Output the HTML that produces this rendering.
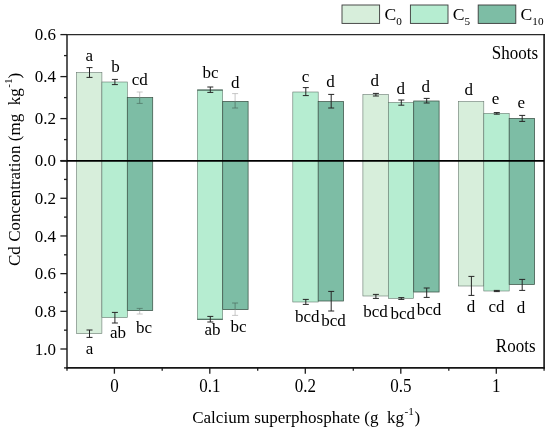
<!DOCTYPE html>
<html><head><meta charset="utf-8"><title>Cd Concentration</title>
<style>html,body{margin:0;padding:0;background:#fff}svg{display:block}text{font-family:"Liberation Serif","Times New Roman",serif;fill:#000}</style></head><body>
<svg width="550" height="430" viewBox="0 0 550 430">
<rect width="550" height="430" fill="#fff"/>
<rect x="76.50" y="72.60" width="25.4" height="88.00" fill="#d7eedb" stroke="#66786e" stroke-width="0.6"/>
<rect x="101.90" y="82.00" width="25.4" height="78.60" fill="#b6edd1" stroke="#66786e" stroke-width="0.6"/>
<rect x="127.30" y="97.60" width="25.4" height="63.00" fill="#7dbda5" stroke="#3c5347" stroke-width="0.75"/>
<rect x="197.30" y="90.00" width="25.4" height="70.60" fill="#b6edd1" stroke="#66786e" stroke-width="0.6"/>
<rect x="222.70" y="101.40" width="25.4" height="59.20" fill="#7dbda5" stroke="#3c5347" stroke-width="0.75"/>
<rect x="292.80" y="92.00" width="25.4" height="68.60" fill="#b6edd1" stroke="#66786e" stroke-width="0.6"/>
<rect x="318.20" y="101.60" width="25.4" height="59.00" fill="#7dbda5" stroke="#3c5347" stroke-width="0.75"/>
<rect x="362.90" y="94.60" width="25.4" height="66.00" fill="#d7eedb" stroke="#66786e" stroke-width="0.6"/>
<rect x="388.30" y="102.40" width="25.4" height="58.20" fill="#b6edd1" stroke="#66786e" stroke-width="0.6"/>
<rect x="413.70" y="101.00" width="25.4" height="59.60" fill="#7dbda5" stroke="#3c5347" stroke-width="0.75"/>
<rect x="458.40" y="101.60" width="25.4" height="59.00" fill="#d7eedb" stroke="#66786e" stroke-width="0.6"/>
<rect x="483.80" y="113.40" width="25.4" height="47.20" fill="#b6edd1" stroke="#66786e" stroke-width="0.6"/>
<rect x="509.20" y="118.40" width="25.4" height="42.20" fill="#7dbda5" stroke="#3c5347" stroke-width="0.75"/>
<rect x="76.50" y="160.60" width="25.4" height="173.00" fill="#d7eedb" stroke="#66786e" stroke-width="0.6"/>
<rect x="101.90" y="160.60" width="25.4" height="157.00" fill="#b6edd1" stroke="#66786e" stroke-width="0.6"/>
<rect x="127.30" y="160.60" width="25.4" height="150.00" fill="#7dbda5" stroke="#3c5347" stroke-width="0.75"/>
<rect x="197.30" y="160.60" width="25.4" height="158.80" fill="#b6edd1" stroke="#66786e" stroke-width="0.6"/>
<rect x="222.70" y="160.60" width="25.4" height="149.00" fill="#7dbda5" stroke="#3c5347" stroke-width="0.75"/>
<rect x="292.80" y="160.60" width="25.4" height="141.40" fill="#b6edd1" stroke="#66786e" stroke-width="0.6"/>
<rect x="318.20" y="160.60" width="25.4" height="140.40" fill="#7dbda5" stroke="#3c5347" stroke-width="0.75"/>
<rect x="362.90" y="160.60" width="25.4" height="135.40" fill="#d7eedb" stroke="#66786e" stroke-width="0.6"/>
<rect x="388.30" y="160.60" width="25.4" height="137.80" fill="#b6edd1" stroke="#66786e" stroke-width="0.6"/>
<rect x="413.70" y="160.60" width="25.4" height="131.40" fill="#7dbda5" stroke="#3c5347" stroke-width="0.75"/>
<rect x="458.40" y="160.60" width="25.4" height="125.40" fill="#d7eedb" stroke="#66786e" stroke-width="0.6"/>
<rect x="483.80" y="160.60" width="25.4" height="130.40" fill="#b6edd1" stroke="#66786e" stroke-width="0.6"/>
<rect x="509.20" y="160.60" width="25.4" height="123.80" fill="#7dbda5" stroke="#3c5347" stroke-width="0.75"/>
<line x1="197.30" y1="90.1" x2="222.70" y2="90.1" stroke="#4f6f60" stroke-width="1.2"/>
<line x1="197.30" y1="319.3" x2="222.70" y2="319.3" stroke="#4f6f60" stroke-width="1.2"/>
<g stroke="#262626" stroke-width="1.0" fill="none"><line x1="89.50" y1="67.60" x2="89.50" y2="77.40"/><line x1="86.50" y1="67.60" x2="92.50" y2="67.60"/><line x1="86.50" y1="77.40" x2="92.50" y2="77.40"/></g>
<g stroke="#262626" stroke-width="1.0" fill="none"><line x1="114.90" y1="79.40" x2="114.90" y2="84.60"/><line x1="111.90" y1="79.40" x2="117.90" y2="79.40"/><line x1="111.90" y1="84.60" x2="117.90" y2="84.60"/></g>
<g stroke-width="0.75" fill="none"><line x1="139.70" y1="92.00" x2="139.70" y2="97.60" stroke="#b4b4b4"/><line x1="139.70" y1="97.60" x2="139.70" y2="103.40" stroke="#4f7263"/><line x1="136.70" y1="92.00" x2="142.70" y2="92.00" stroke="#b4b4b4"/><line x1="136.70" y1="103.40" x2="142.70" y2="103.40" stroke="#4f7263"/></g>
<g stroke="#262626" stroke-width="1.0" fill="none"><line x1="210.30" y1="87.00" x2="210.30" y2="92.40"/><line x1="207.30" y1="87.00" x2="213.30" y2="87.00"/><line x1="207.30" y1="92.40" x2="213.30" y2="92.40"/></g>
<g stroke-width="0.75" fill="none"><line x1="235.10" y1="93.60" x2="235.10" y2="101.40" stroke="#b4b4b4"/><line x1="235.10" y1="101.40" x2="235.10" y2="108.00" stroke="#4f7263"/><line x1="232.10" y1="93.60" x2="238.10" y2="93.60" stroke="#b4b4b4"/><line x1="232.10" y1="108.00" x2="238.10" y2="108.00" stroke="#4f7263"/></g>
<g stroke="#262626" stroke-width="1.0" fill="none"><line x1="305.80" y1="87.60" x2="305.80" y2="95.60"/><line x1="302.80" y1="87.60" x2="308.80" y2="87.60"/><line x1="302.80" y1="95.60" x2="308.80" y2="95.60"/></g>
<g stroke="#262626" stroke-width="1.0" fill="none"><line x1="331.20" y1="94.40" x2="331.20" y2="108.00"/><line x1="328.20" y1="94.40" x2="334.20" y2="94.40"/><line x1="328.20" y1="108.00" x2="334.20" y2="108.00"/></g>
<g stroke="#262626" stroke-width="1.0" fill="none"><line x1="375.90" y1="93.40" x2="375.90" y2="96.00"/><line x1="372.90" y1="93.40" x2="378.90" y2="93.40"/><line x1="372.90" y1="96.00" x2="378.90" y2="96.00"/></g>
<g stroke="#262626" stroke-width="1.0" fill="none"><line x1="401.30" y1="100.00" x2="401.30" y2="105.20"/><line x1="398.30" y1="100.00" x2="404.30" y2="100.00"/><line x1="398.30" y1="105.20" x2="404.30" y2="105.20"/></g>
<g stroke="#262626" stroke-width="1.0" fill="none"><line x1="426.70" y1="98.40" x2="426.70" y2="103.00"/><line x1="423.70" y1="98.40" x2="429.70" y2="98.40"/><line x1="423.70" y1="103.00" x2="429.70" y2="103.00"/></g>
<g stroke="#262626" stroke-width="1.0" fill="none"><line x1="496.80" y1="112.60" x2="496.80" y2="114.20"/><line x1="493.80" y1="112.60" x2="499.80" y2="112.60"/><line x1="493.80" y1="114.20" x2="499.80" y2="114.20"/></g>
<g stroke="#262626" stroke-width="1.0" fill="none"><line x1="522.20" y1="115.40" x2="522.20" y2="121.40"/><line x1="519.20" y1="115.40" x2="525.20" y2="115.40"/><line x1="519.20" y1="121.40" x2="525.20" y2="121.40"/></g>
<g stroke="#262626" stroke-width="1.0" fill="none"><line x1="89.50" y1="330.00" x2="89.50" y2="337.40"/><line x1="86.50" y1="330.00" x2="92.50" y2="330.00"/><line x1="86.50" y1="337.40" x2="92.50" y2="337.40"/></g>
<g stroke="#262626" stroke-width="1.0" fill="none"><line x1="114.90" y1="312.40" x2="114.90" y2="323.00"/><line x1="111.90" y1="312.40" x2="117.90" y2="312.40"/><line x1="111.90" y1="323.00" x2="117.90" y2="323.00"/></g>
<g stroke-width="0.75" fill="none"><line x1="139.70" y1="308.40" x2="139.70" y2="310.60" stroke="#4f7263"/><line x1="139.70" y1="310.60" x2="139.70" y2="314.00" stroke="#b4b4b4"/><line x1="136.70" y1="308.40" x2="142.70" y2="308.40" stroke="#4f7263"/><line x1="136.70" y1="314.00" x2="142.70" y2="314.00" stroke="#b4b4b4"/></g>
<g stroke="#262626" stroke-width="1.0" fill="none"><line x1="210.30" y1="316.40" x2="210.30" y2="322.00"/><line x1="207.30" y1="316.40" x2="213.30" y2="316.40"/><line x1="207.30" y1="322.00" x2="213.30" y2="322.00"/></g>
<g stroke-width="0.75" fill="none"><line x1="235.10" y1="303.00" x2="235.10" y2="309.60" stroke="#4f7263"/><line x1="235.10" y1="309.60" x2="235.10" y2="315.40" stroke="#b4b4b4"/><line x1="232.10" y1="303.00" x2="238.10" y2="303.00" stroke="#4f7263"/><line x1="232.10" y1="315.40" x2="238.10" y2="315.40" stroke="#b4b4b4"/></g>
<g stroke="#262626" stroke-width="1.0" fill="none"><line x1="305.80" y1="299.40" x2="305.80" y2="304.40"/><line x1="302.80" y1="299.40" x2="308.80" y2="299.40"/><line x1="302.80" y1="304.40" x2="308.80" y2="304.40"/></g>
<g stroke="#262626" stroke-width="1.0" fill="none"><line x1="331.20" y1="291.40" x2="331.20" y2="311.00"/><line x1="328.20" y1="291.40" x2="334.20" y2="291.40"/><line x1="328.20" y1="311.00" x2="334.20" y2="311.00"/></g>
<g stroke="#262626" stroke-width="1.0" fill="none"><line x1="375.90" y1="294.40" x2="375.90" y2="298.40"/><line x1="372.90" y1="294.40" x2="378.90" y2="294.40"/><line x1="372.90" y1="298.40" x2="378.90" y2="298.40"/></g>
<g stroke="#262626" stroke-width="1.0" fill="none"><line x1="401.30" y1="297.60" x2="401.30" y2="299.40"/><line x1="398.30" y1="297.60" x2="404.30" y2="297.60"/><line x1="398.30" y1="299.40" x2="404.30" y2="299.40"/></g>
<g stroke="#262626" stroke-width="1.0" fill="none"><line x1="426.70" y1="288.00" x2="426.70" y2="297.40"/><line x1="423.70" y1="288.00" x2="429.70" y2="288.00"/><line x1="423.70" y1="297.40" x2="429.70" y2="297.40"/></g>
<g stroke="#262626" stroke-width="1.0" fill="none"><line x1="471.40" y1="276.40" x2="471.40" y2="295.40"/><line x1="468.40" y1="276.40" x2="474.40" y2="276.40"/><line x1="468.40" y1="295.40" x2="474.40" y2="295.40"/></g>
<g stroke="#262626" stroke-width="1.0" fill="none"><line x1="496.80" y1="290.40" x2="496.80" y2="291.60"/><line x1="493.80" y1="290.40" x2="499.80" y2="290.40"/><line x1="493.80" y1="291.60" x2="499.80" y2="291.60"/></g>
<g stroke="#262626" stroke-width="1.0" fill="none"><line x1="522.20" y1="279.40" x2="522.20" y2="290.40"/><line x1="519.20" y1="279.40" x2="525.20" y2="279.40"/><line x1="519.20" y1="290.40" x2="525.20" y2="290.40"/></g>
<text x="89.2" y="61.2" font-size="17.0" text-anchor="middle">a</text>
<text x="115.6" y="71.7" font-size="17.0" text-anchor="middle">b</text>
<text x="139.8" y="84.8" font-size="17.0" text-anchor="middle">cd</text>
<text x="210.6" y="78.2" font-size="17.0" text-anchor="middle">bc</text>
<text x="235.2" y="88.2" font-size="17.0" text-anchor="middle">d</text>
<text x="305.6" y="81.8" font-size="17.0" text-anchor="middle">c</text>
<text x="330.6" y="86.6" font-size="17.0" text-anchor="middle">d</text>
<text x="374.7" y="85.7" font-size="17.0" text-anchor="middle">d</text>
<text x="400.7" y="93.7" font-size="17.0" text-anchor="middle">d</text>
<text x="425.8" y="92.1" font-size="17.0" text-anchor="middle">d</text>
<text x="468.8" y="95.2" font-size="17.0" text-anchor="middle">d</text>
<text x="495.6" y="103.8" font-size="17.0" text-anchor="middle">e</text>
<text x="521.2" y="108.4" font-size="17.0" text-anchor="middle">e</text>
<text x="89.4" y="353.6" font-size="17.0" text-anchor="middle">a</text>
<text x="118.0" y="338.2" font-size="17.0" text-anchor="middle">ab</text>
<text x="144.0" y="332.6" font-size="17.0" text-anchor="middle">bc</text>
<text x="212.6" y="335.1" font-size="17.0" text-anchor="middle">ab</text>
<text x="238.6" y="332.3" font-size="17.0" text-anchor="middle">bc</text>
<text x="307.3" y="321.7" font-size="17.0" text-anchor="middle">bcd</text>
<text x="333.6" y="326.1" font-size="17.0" text-anchor="middle">bcd</text>
<text x="375.6" y="317.0" font-size="17.0" text-anchor="middle">bcd</text>
<text x="402.7" y="318.6" font-size="17.0" text-anchor="middle">bcd</text>
<text x="429.0" y="315.0" font-size="17.0" text-anchor="middle">bcd</text>
<text x="471.0" y="311.7" font-size="17.0" text-anchor="middle">d</text>
<text x="496.6" y="311.7" font-size="17.0" text-anchor="middle">cd</text>
<text x="521.0" y="313.0" font-size="17.0" text-anchor="middle">d</text>
<line x1="67.0" y1="34.1" x2="67.0" y2="368.7" stroke="#1a1a1a" stroke-width="1.45"/>
<line x1="67.0" y1="34.7" x2="544.9" y2="34.7" stroke="#2a2a2a" stroke-width="1.25"/>
<line x1="544.1" y1="34.1" x2="544.1" y2="368.7" stroke="#151515" stroke-width="1.6"/>
<line x1="66.3" y1="367.9" x2="544.9" y2="367.9" stroke="#151515" stroke-width="1.6"/>
<line x1="60.4" y1="160.85" x2="544.1" y2="160.85" stroke="#000" stroke-width="1.9"/>
<line x1="60.4" y1="34.60" x2="67.0" y2="34.60" stroke="#1c1c1c" stroke-width="1.3"/>
<text transform="translate(56,40.20) scale(1,1.04)" font-size="17.0" text-anchor="end">0.6</text>
<line x1="60.4" y1="76.60" x2="67.0" y2="76.60" stroke="#1c1c1c" stroke-width="1.3"/>
<text transform="translate(56,82.20) scale(1,1.04)" font-size="17.0" text-anchor="end">0.4</text>
<line x1="60.4" y1="118.60" x2="67.0" y2="118.60" stroke="#1c1c1c" stroke-width="1.3"/>
<text transform="translate(56,124.20) scale(1,1.04)" font-size="17.0" text-anchor="end">0.2</text>
<line x1="64.0" y1="55.60" x2="67.0" y2="55.60" stroke="#1c1c1c" stroke-width="1.3"/>
<line x1="64.0" y1="97.60" x2="67.0" y2="97.60" stroke="#1c1c1c" stroke-width="1.3"/>
<line x1="64.0" y1="139.60" x2="67.0" y2="139.60" stroke="#1c1c1c" stroke-width="1.3"/>
<line x1="60.4" y1="198.28" x2="67.0" y2="198.28" stroke="#1c1c1c" stroke-width="1.3"/>
<text transform="translate(56,203.88) scale(1,1.04)" font-size="17.0" text-anchor="end">0.2</text>
<line x1="60.4" y1="235.96" x2="67.0" y2="235.96" stroke="#1c1c1c" stroke-width="1.3"/>
<text transform="translate(56,241.56) scale(1,1.04)" font-size="17.0" text-anchor="end">0.4</text>
<line x1="60.4" y1="273.64" x2="67.0" y2="273.64" stroke="#1c1c1c" stroke-width="1.3"/>
<text transform="translate(56,279.24) scale(1,1.04)" font-size="17.0" text-anchor="end">0.6</text>
<line x1="60.4" y1="311.32" x2="67.0" y2="311.32" stroke="#1c1c1c" stroke-width="1.3"/>
<text transform="translate(56,316.92) scale(1,1.04)" font-size="17.0" text-anchor="end">0.8</text>
<line x1="60.4" y1="349.00" x2="67.0" y2="349.00" stroke="#1c1c1c" stroke-width="1.3"/>
<text transform="translate(56,354.60) scale(1,1.04)" font-size="17.0" text-anchor="end">1.0</text>
<line x1="64.0" y1="179.44" x2="67.0" y2="179.44" stroke="#1c1c1c" stroke-width="1.3"/>
<line x1="64.0" y1="217.12" x2="67.0" y2="217.12" stroke="#1c1c1c" stroke-width="1.3"/>
<line x1="64.0" y1="254.80" x2="67.0" y2="254.80" stroke="#1c1c1c" stroke-width="1.3"/>
<line x1="64.0" y1="292.48" x2="67.0" y2="292.48" stroke="#1c1c1c" stroke-width="1.3"/>
<line x1="64.0" y1="330.16" x2="67.0" y2="330.16" stroke="#1c1c1c" stroke-width="1.3"/>
<line x1="60.4" y1="160.60" x2="67.0" y2="160.60" stroke="#1c1c1c" stroke-width="1.3"/>
<text transform="translate(56,166.20) scale(1,1.04)" font-size="17.0" text-anchor="end">0.0</text>
<line x1="64.0" y1="367.90" x2="67.0" y2="367.90" stroke="#1c1c1c" stroke-width="1.3"/>
<line x1="114.40" y1="367.9" x2="114.40" y2="373.7" stroke="#1c1c1c" stroke-width="1.3"/>
<text transform="translate(114.40,391.9) scale(1,1.05)" font-size="17.0" text-anchor="middle">0</text>
<line x1="209.80" y1="367.9" x2="209.80" y2="373.7" stroke="#1c1c1c" stroke-width="1.3"/>
<text transform="translate(209.80,391.9) scale(1,1.05)" font-size="17.0" text-anchor="middle">0.1</text>
<line x1="305.30" y1="367.9" x2="305.30" y2="373.7" stroke="#1c1c1c" stroke-width="1.3"/>
<text transform="translate(305.30,391.9) scale(1,1.05)" font-size="17.0" text-anchor="middle">0.2</text>
<line x1="400.80" y1="367.9" x2="400.80" y2="373.7" stroke="#1c1c1c" stroke-width="1.3"/>
<text transform="translate(400.80,391.9) scale(1,1.05)" font-size="17.0" text-anchor="middle">0.5</text>
<line x1="496.30" y1="367.9" x2="496.30" y2="373.7" stroke="#1c1c1c" stroke-width="1.3"/>
<text transform="translate(496.30,391.9) scale(1,1.05)" font-size="17.0" text-anchor="middle">1</text>
<line x1="67.00" y1="367.9" x2="67.00" y2="370.7" stroke="#1c1c1c" stroke-width="1.3"/>
<line x1="162.20" y1="367.9" x2="162.20" y2="370.7" stroke="#1c1c1c" stroke-width="1.3"/>
<line x1="257.70" y1="367.9" x2="257.70" y2="370.7" stroke="#1c1c1c" stroke-width="1.3"/>
<line x1="353.30" y1="367.9" x2="353.30" y2="370.7" stroke="#1c1c1c" stroke-width="1.3"/>
<line x1="448.80" y1="367.9" x2="448.80" y2="370.7" stroke="#1c1c1c" stroke-width="1.3"/>
<line x1="544.10" y1="367.9" x2="544.10" y2="370.7" stroke="#1c1c1c" stroke-width="1.3"/>
<text transform="translate(538,58.7) scale(1,1.06)" font-size="17.0" text-anchor="end">Shoots</text>
<text transform="translate(535.5,351.8) scale(1,1.05)" font-size="17.0" text-anchor="end">Roots</text>
<text x="192.2" y="422.5" font-size="17.05" xml:space="preserve" style="white-space:pre">Calcium superphosphate (g  kg<tspan font-size="11.3" dy="-7.3" dx="0.3">-1</tspan><tspan dy="7.3" dx="0.6">)</tspan></text>
<text transform="translate(19.6,266) rotate(-90)" font-size="17.05" xml:space="preserve" style="white-space:pre">Cd Concentration (mg  kg<tspan font-size="11.3" dy="-7.3" dx="0.3">-1</tspan><tspan dy="7.3" dx="0">)</tspan></text>
<rect x="342" y="5" width="37.6" height="18.4" fill="#d7eedb" stroke="#3a3a3a" stroke-width="0.9"/>
<text x="384.4" y="20" font-size="17.6">C<tspan font-size="11.2" dy="4.7">0</tspan></text>
<rect x="410.4" y="5" width="37.6" height="18.4" fill="#b6edd1" stroke="#3a3a3a" stroke-width="0.9"/>
<text x="452.79999999999995" y="20" font-size="17.6">C<tspan font-size="11.2" dy="4.7">5</tspan></text>
<rect x="478.2" y="5" width="37.6" height="18.4" fill="#7dbda5" stroke="#3a3a3a" stroke-width="0.9"/>
<text x="520.6" y="20" font-size="17.6">C<tspan font-size="11.2" dy="4.7">10</tspan></text>
</svg></body></html>
